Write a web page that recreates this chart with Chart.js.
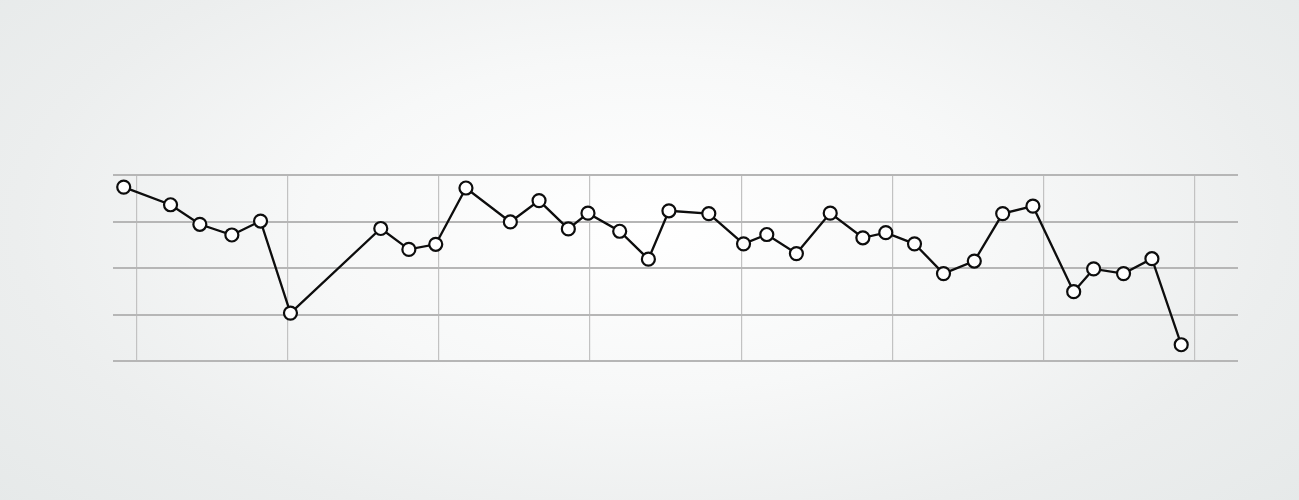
<!DOCTYPE html>
<html>
<head>
<meta charset="utf-8">
<script src="https://cdn.jsdelivr.net/npm/chart.js@4.4.1/dist/chart.umd.min.js"></script>
<style>
  html, body { margin: 0; padding: 0; }
  body {
    width: 1299px; height: 500px; overflow: hidden;
    background: radial-gradient(ellipse 75% 95% at 50% 45%, #ffffff 0%, #f7f8f8 35%, #eceeee 65%, #e3e7e7 100%);
  }
  #wrap { position: relative; width: 1299px; height: 500px; }
</style>
</head>
<body>
<div id="wrap"><canvas id="c"></canvas></div>
<script>
// x positions (grid column = 5 units) and values (grid row = 10 units)
const xValues = [-0.44, 1.11, 2.08, 3.14, 4.09, 5.08, 8.07, 9.00, 9.89, 10.89,
  12.36, 13.31, 14.28, 14.93, 15.98, 16.93, 17.61, 18.93, 20.08, 20.85,
  21.83, 22.95, 24.03, 24.79, 25.74, 26.70, 27.72, 28.66, 29.66, 31.01,
  31.67, 32.66, 33.60, 34.57];
const yValues = [37.4, 33.6, 29.4, 27.1, 30.1, 10.3, 28.5, 24.0, 25.1, 37.2,
  29.9, 34.5, 28.4, 31.8, 27.9, 21.9, 32.3, 31.7, 25.2, 27.2,
  23.1, 31.8, 26.5, 27.6, 25.2, 18.8, 21.5, 31.7, 33.3, 14.9,
  19.8, 18.8, 22.0, 3.5];
const xTicks = [0, 5, 10, 15, 20, 25, 30, 35];
const yTicks = [0, 10, 20, 30, 40];
const xMin = -0.795, xMax = 36.45;
const yMin = 0, yMax = 40;

const points = xValues.map((x, i) => ({ x: x, y: yValues[i] }));

new Chart(document.getElementById('c'), {
  type: 'line',
  data: {
    datasets: [{
      data: points,
      borderColor: '#0d0d0d',
      borderWidth: 2.3,
      pointRadius: 6.5,
      pointHoverRadius: 6.5,
      pointBorderWidth: 2.2,
      pointBackgroundColor: '#ffffff',
      pointBorderColor: '#0d0d0d',
      tension: 0,
      fill: false,
      clip: false
    }]
  },
  options: {
    responsive: true,
    maintainAspectRatio: false,
    animation: false,
    events: [],
    layout: { autoPadding: false, padding: { left: 113, right: 61, top: 175, bottom: 139 } },
    plugins: { legend: { display: false }, tooltip: { enabled: false }, title: { display: false } },
    scales: {
      x: {
        type: 'linear', min: xMin, max: xMax,
        afterBuildTicks: (s) => { s.ticks = xTicks.map(v => ({ value: v })); },
        ticks: { display: false },
        grid: { display: true, drawTicks: false, color: '#c2c2c2', lineWidth: 1.2 },
        border: { display: false }
      },
      y: {
        type: 'linear', min: yMin, max: yMax,
        afterBuildTicks: (s) => { s.ticks = yTicks.map(v => ({ value: v })); },
        ticks: { display: false },
        grid: { display: true, drawTicks: false, color: '#b6b6b6', lineWidth: 2 },
        border: { display: false }
      }
    }
  }
});
</script>
</body>
</html>
